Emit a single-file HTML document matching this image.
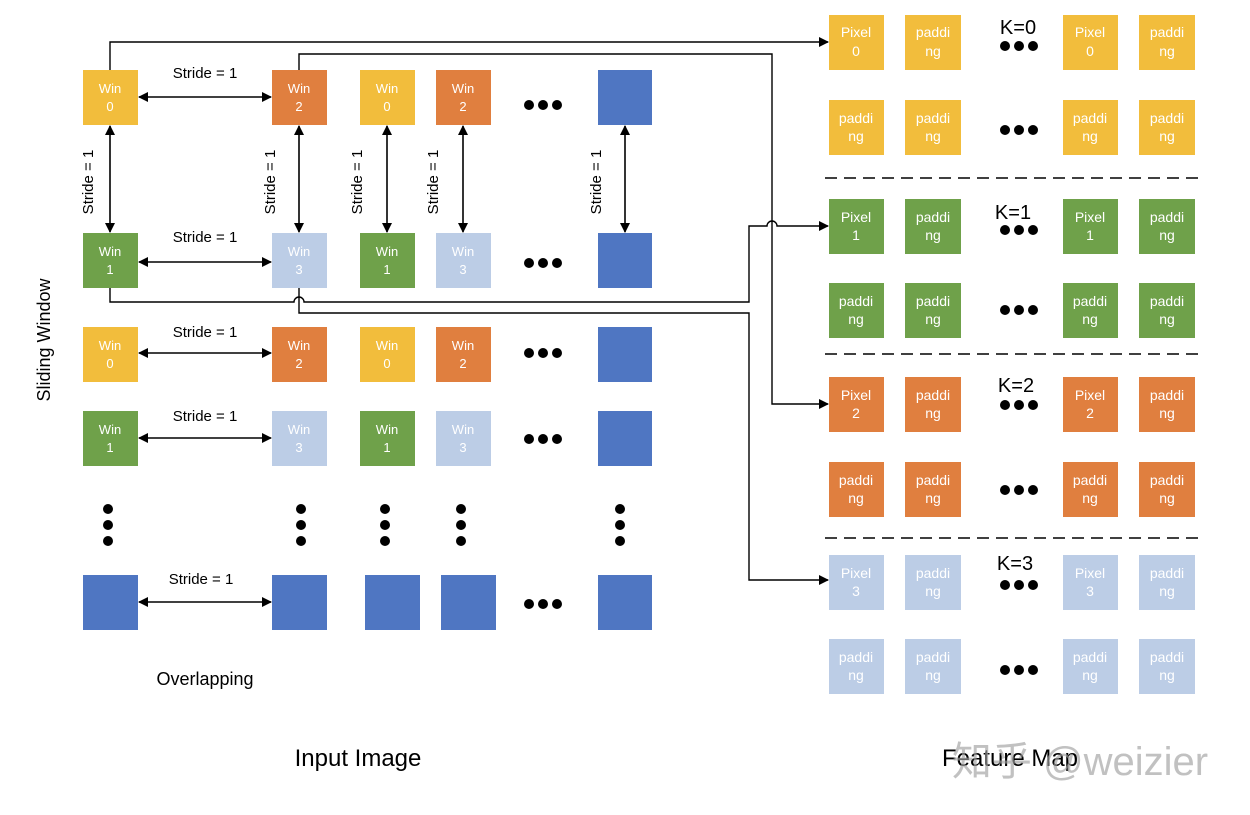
<!DOCTYPE html>
<html><head><meta charset="utf-8"><style>
body{margin:0;background:#fff}
svg text{font-family:"Liberation Sans","Noto Sans CJK SC",sans-serif}
</style></head><body>
<svg width="1250" height="810" viewBox="0 0 1250 810" xmlns="http://www.w3.org/2000/svg">
<defs>
<marker id="a" markerWidth="10" markerHeight="10" refX="9" refY="5" orient="auto-start-reverse" markerUnits="userSpaceOnUse"><path d="M0,0 L10,5 L0,10 z" fill="#000"/></marker>
<g id="dh"><circle cx="0" cy="0" r="5"/><circle cx="14" cy="0" r="5"/><circle cx="28" cy="0" r="5"/></g>
<g id="dv"><circle cx="0" cy="0" r="5"/><circle cx="0" cy="16" r="5"/><circle cx="0" cy="32" r="5"/></g>
</defs>
<g font-size="13" fill="#fff" text-anchor="middle">
<rect x="83" y="70" width="55" height="55" fill="#f2bd3c"/><text x="110" y="93">Win</text><text x="110" y="111">0</text>
<rect x="272" y="70" width="55" height="55" fill="#e07f3f"/><text x="299" y="93">Win</text><text x="299" y="111">2</text>
<rect x="360" y="70" width="55" height="55" fill="#f2bd3c"/><text x="387" y="93">Win</text><text x="387" y="111">0</text>
<rect x="436" y="70" width="55" height="55" fill="#e07f3f"/><text x="463" y="93">Win</text><text x="463" y="111">2</text>
<rect x="598" y="70" width="54" height="55" fill="#4f76c2"/>

<rect x="83" y="233" width="55" height="55" fill="#6fa14a"/><text x="110" y="256">Win</text><text x="110" y="274">1</text>
<rect x="272" y="233" width="55" height="55" fill="#bccde6"/><text x="299" y="256">Win</text><text x="299" y="274">3</text>
<rect x="360" y="233" width="55" height="55" fill="#6fa14a"/><text x="387" y="256">Win</text><text x="387" y="274">1</text>
<rect x="436" y="233" width="55" height="55" fill="#bccde6"/><text x="463" y="256">Win</text><text x="463" y="274">3</text>
<rect x="598" y="233" width="54" height="55" fill="#4f76c2"/>

<rect x="83" y="327" width="55" height="55" fill="#f2bd3c"/><text x="110" y="350">Win</text><text x="110" y="368">0</text>
<rect x="272" y="327" width="55" height="55" fill="#e07f3f"/><text x="299" y="350">Win</text><text x="299" y="368">2</text>
<rect x="360" y="327" width="55" height="55" fill="#f2bd3c"/><text x="387" y="350">Win</text><text x="387" y="368">0</text>
<rect x="436" y="327" width="55" height="55" fill="#e07f3f"/><text x="463" y="350">Win</text><text x="463" y="368">2</text>
<rect x="598" y="327" width="54" height="55" fill="#4f76c2"/>

<rect x="83" y="411" width="55" height="55" fill="#6fa14a"/><text x="110" y="434">Win</text><text x="110" y="452">1</text>
<rect x="272" y="411" width="55" height="55" fill="#bccde6"/><text x="299" y="434">Win</text><text x="299" y="452">3</text>
<rect x="360" y="411" width="55" height="55" fill="#6fa14a"/><text x="387" y="434">Win</text><text x="387" y="452">1</text>
<rect x="436" y="411" width="55" height="55" fill="#bccde6"/><text x="463" y="434">Win</text><text x="463" y="452">3</text>
<rect x="598" y="411" width="54" height="55" fill="#4f76c2"/>

<rect x="83" y="575" width="55" height="55" fill="#4f76c2"/>
<rect x="272" y="575" width="55" height="55" fill="#4f76c2"/>
<rect x="365" y="575" width="55" height="55" fill="#4f76c2"/>
<rect x="441" y="575" width="55" height="55" fill="#4f76c2"/>
<rect x="598" y="575" width="54" height="55" fill="#4f76c2"/>
</g>

<g font-size="14" fill="#fff" text-anchor="middle">
<rect x="829" y="15" width="55" height="55" fill="#f2bd3c"/><text x="856" y="37">Pixel</text><text x="856" y="56">0</text>
<rect x="905" y="15" width="56" height="55" fill="#f2bd3c"/><text x="933" y="37">paddi</text><text x="933" y="56">ng</text>
<rect x="1063" y="15" width="55" height="55" fill="#f2bd3c"/><text x="1090" y="37">Pixel</text><text x="1090" y="56">0</text>
<rect x="1139" y="15" width="56" height="55" fill="#f2bd3c"/><text x="1167" y="37">paddi</text><text x="1167" y="56">ng</text>
<rect x="829" y="100" width="55" height="55" fill="#f2bd3c"/><text x="856" y="123">paddi</text><text x="856" y="141">ng</text>
<rect x="905" y="100" width="56" height="55" fill="#f2bd3c"/><text x="933" y="123">paddi</text><text x="933" y="141">ng</text>
<rect x="1063" y="100" width="55" height="55" fill="#f2bd3c"/><text x="1090" y="123">paddi</text><text x="1090" y="141">ng</text>
<rect x="1139" y="100" width="56" height="55" fill="#f2bd3c"/><text x="1167" y="123">paddi</text><text x="1167" y="141">ng</text>

<rect x="829" y="199" width="55" height="55" fill="#6fa14a"/><text x="856" y="222">Pixel</text><text x="856" y="240">1</text>
<rect x="905" y="199" width="56" height="55" fill="#6fa14a"/><text x="933" y="222">paddi</text><text x="933" y="240">ng</text>
<rect x="1063" y="199" width="55" height="55" fill="#6fa14a"/><text x="1090" y="222">Pixel</text><text x="1090" y="240">1</text>
<rect x="1139" y="199" width="56" height="55" fill="#6fa14a"/><text x="1167" y="222">paddi</text><text x="1167" y="240">ng</text>
<rect x="829" y="283" width="55" height="55" fill="#6fa14a"/><text x="856" y="306">paddi</text><text x="856" y="324">ng</text>
<rect x="905" y="283" width="56" height="55" fill="#6fa14a"/><text x="933" y="306">paddi</text><text x="933" y="324">ng</text>
<rect x="1063" y="283" width="55" height="55" fill="#6fa14a"/><text x="1090" y="306">paddi</text><text x="1090" y="324">ng</text>
<rect x="1139" y="283" width="56" height="55" fill="#6fa14a"/><text x="1167" y="306">paddi</text><text x="1167" y="324">ng</text>

<rect x="829" y="377" width="55" height="55" fill="#e07f3f"/><text x="856" y="400">Pixel</text><text x="856" y="418">2</text>
<rect x="905" y="377" width="56" height="55" fill="#e07f3f"/><text x="933" y="400">paddi</text><text x="933" y="418">ng</text>
<rect x="1063" y="377" width="55" height="55" fill="#e07f3f"/><text x="1090" y="400">Pixel</text><text x="1090" y="418">2</text>
<rect x="1139" y="377" width="56" height="55" fill="#e07f3f"/><text x="1167" y="400">paddi</text><text x="1167" y="418">ng</text>
<rect x="829" y="462" width="55" height="55" fill="#e07f3f"/><text x="856" y="485">paddi</text><text x="856" y="503">ng</text>
<rect x="905" y="462" width="56" height="55" fill="#e07f3f"/><text x="933" y="485">paddi</text><text x="933" y="503">ng</text>
<rect x="1063" y="462" width="55" height="55" fill="#e07f3f"/><text x="1090" y="485">paddi</text><text x="1090" y="503">ng</text>
<rect x="1139" y="462" width="56" height="55" fill="#e07f3f"/><text x="1167" y="485">paddi</text><text x="1167" y="503">ng</text>

<rect x="829" y="555" width="55" height="55" fill="#bccde6"/><text x="856" y="578">Pixel</text><text x="856" y="596">3</text>
<rect x="905" y="555" width="56" height="55" fill="#bccde6"/><text x="933" y="578">paddi</text><text x="933" y="596">ng</text>
<rect x="1063" y="555" width="55" height="55" fill="#bccde6"/><text x="1090" y="578">Pixel</text><text x="1090" y="596">3</text>
<rect x="1139" y="555" width="56" height="55" fill="#bccde6"/><text x="1167" y="578">paddi</text><text x="1167" y="596">ng</text>
<rect x="829" y="639" width="55" height="55" fill="#bccde6"/><text x="856" y="662">paddi</text><text x="856" y="680">ng</text>
<rect x="905" y="639" width="56" height="55" fill="#bccde6"/><text x="933" y="662">paddi</text><text x="933" y="680">ng</text>
<rect x="1063" y="639" width="55" height="55" fill="#bccde6"/><text x="1090" y="662">paddi</text><text x="1090" y="680">ng</text>
<rect x="1139" y="639" width="56" height="55" fill="#bccde6"/><text x="1167" y="662">paddi</text><text x="1167" y="680">ng</text>
</g>

<g stroke="#000" stroke-width="1.5" stroke-dasharray="12,7">
<line x1="825" y1="178" x2="1205" y2="178"/>
<line x1="825" y1="354" x2="1205" y2="354"/>
<line x1="825" y1="538" x2="1205" y2="538"/>
</g>

<g font-size="20" fill="#000" text-anchor="middle">
<text x="1018" y="34">K=0</text>
<text x="1013" y="219">K=1</text>
<text x="1016" y="392">K=2</text>
<text x="1015" y="570">K=3</text>
</g>

<g fill="#000">
<use href="#dh" x="1005" y="46"/><use href="#dh" x="1005" y="130"/>
<use href="#dh" x="1005" y="230"/><use href="#dh" x="1005" y="310"/>
<use href="#dh" x="1005" y="405"/><use href="#dh" x="1005" y="490"/>
<use href="#dh" x="1005" y="585"/><use href="#dh" x="1005" y="670"/>
<use href="#dh" x="529" y="105"/><use href="#dh" x="529" y="263"/>
<use href="#dh" x="529" y="353"/><use href="#dh" x="529" y="439"/>
<use href="#dh" x="529" y="604"/>
<use href="#dv" x="108" y="509"/><use href="#dv" x="301" y="509"/>
<use href="#dv" x="385" y="509"/><use href="#dv" x="461" y="509"/>
<use href="#dv" x="620" y="509"/>
</g>

<g stroke="#000" stroke-width="1.6" fill="none" marker-start="url(#a)" marker-end="url(#a)">
<line x1="139" y1="97" x2="271" y2="97"/>
<line x1="139" y1="262" x2="271" y2="262"/>
<line x1="139" y1="353" x2="271" y2="353"/>
<line x1="139" y1="438" x2="271" y2="438"/>
<line x1="139" y1="602" x2="271" y2="602"/>
<line x1="110" y1="126" x2="110" y2="232"/>
<line x1="299" y1="126" x2="299" y2="232"/>
<line x1="387" y1="126" x2="387" y2="232"/>
<line x1="463" y1="126" x2="463" y2="232"/>
<line x1="625" y1="126" x2="625" y2="232"/>
</g>
<g font-size="15" fill="#000" text-anchor="middle">
<text x="205" y="78">Stride = 1</text>
<text x="205" y="242">Stride = 1</text>
<text x="205" y="337">Stride = 1</text>
<text x="205" y="421">Stride = 1</text>
<text x="201" y="584">Stride = 1</text>
<text transform="translate(93,182) rotate(-90)">Stride = 1</text>
<text transform="translate(275,182) rotate(-90)">Stride = 1</text>
<text transform="translate(362,182) rotate(-90)">Stride = 1</text>
<text transform="translate(438,182) rotate(-90)">Stride = 1</text>
<text transform="translate(601,182) rotate(-90)">Stride = 1</text>
</g>

<g stroke="#000" stroke-width="1.4" fill="none">
<path d="M110,70 V42 H828" marker-end="url(#a)"/>
<path d="M299,70 V54 H772 V404 H828" marker-end="url(#a)"/>
<path d="M110,288 V302 H294 A5,5 0 0 1 304,302 H749 V226 H767 A5,5 0 0 1 777,226 H828" marker-end="url(#a)"/>
<path d="M299,288 V313 H749 V580 H828" marker-end="url(#a)"/>
</g>

<g fill="#000">
<text transform="translate(50,340) rotate(-90)" font-size="18" text-anchor="middle">Sliding Window</text>
<text x="205" y="685" font-size="18" text-anchor="middle">Overlapping</text>
<text x="358" y="766" font-size="24" text-anchor="middle">Input Image</text>
<text x="1010" y="766" font-size="24" text-anchor="middle">Feature Map</text>
</g>
<text x="1080" y="775" font-size="40" fill="#a0a0a0" fill-opacity="0.65" text-anchor="middle">知乎 @weizier</text>
</svg>
</body></html>
